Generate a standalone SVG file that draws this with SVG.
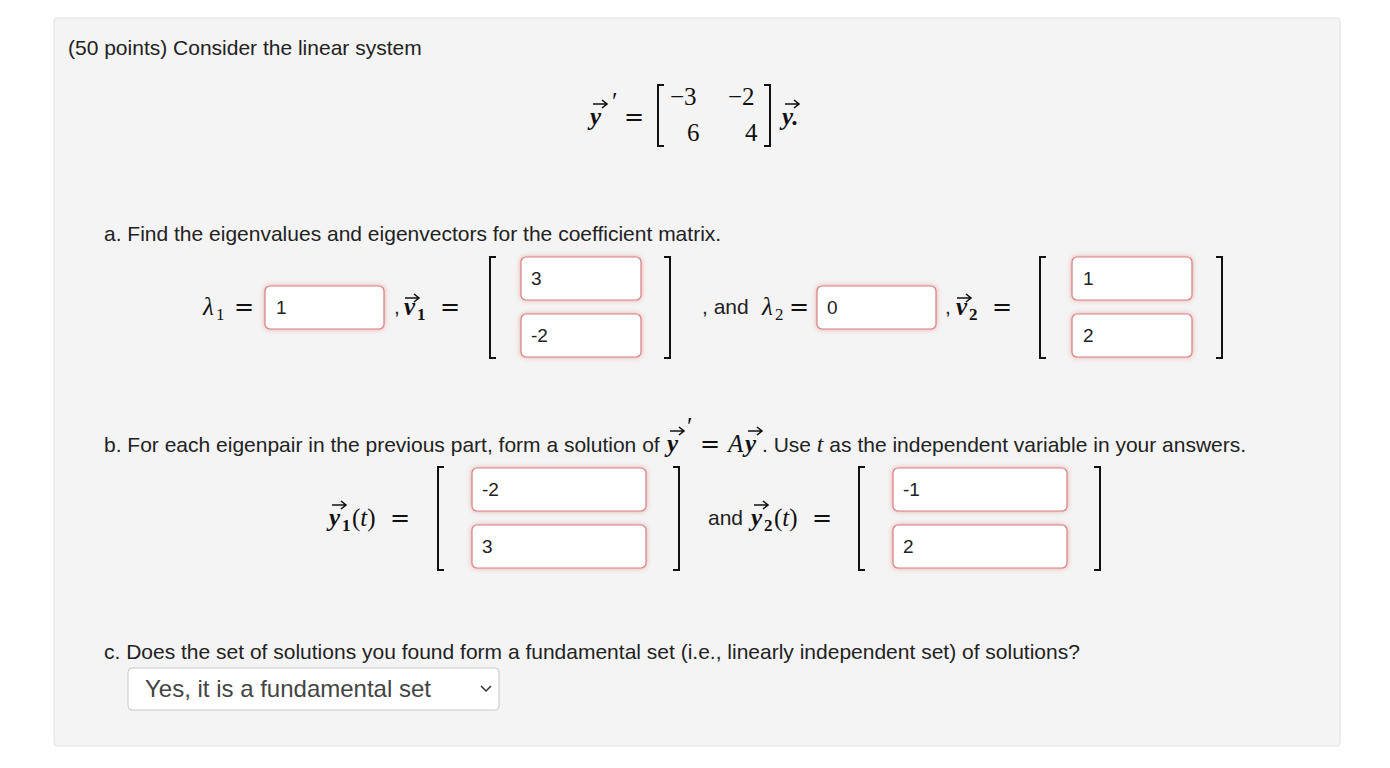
<svg xmlns="http://www.w3.org/2000/svg" width="1390" height="768" viewBox="0 0 1390 768">
<style>
.t{font-family:"Liberation Sans",Arial,sans-serif;font-size:21px;fill:#222}
.m{font-family:"Liberation Serif","Times New Roman",serif;font-size:25px;fill:#111}
.eq{font-family:"DejaVu Serif",serif;font-size:24px;fill:#111}
.mb{font-family:"Liberation Serif","Times New Roman",serif;font-size:25px;font-weight:bold;font-style:italic;fill:#111}
.mi{font-family:"Liberation Serif","Times New Roman",serif;font-size:25px;font-style:italic;fill:#111}
.sub{font-family:"Liberation Serif","Times New Roman",serif;font-size:17px;fill:#111}
.subb{font-family:"Liberation Serif","Times New Roman",serif;font-size:17px;font-weight:bold;fill:#111}
.box{fill:#fff;stroke:#d88080;stroke-width:1.2;filter:url(#glow)}
.v{font-family:"Liberation Sans",Arial,sans-serif;font-size:19px;fill:#222}
.br{fill:none;stroke:#111;stroke-width:2}
.ar{fill:none;stroke:#111;stroke-width:1.6}
</style>
<defs>
<filter id="glow" x="-20%" y="-30%" width="140%" height="160%">
<feDropShadow dx="0" dy="0" stdDeviation="2.5" flood-color="#e05050" flood-opacity="0.45"/>
</filter>
</defs>
<rect width="1390" height="768" fill="#fff"/>
<rect x="54" y="18" width="1286" height="728" rx="3" fill="#f4f4f4" stroke="#e0e0e0"/>
<text class="t" x="68" y="55">(50 points) Consider the linear system</text>

<!-- main equation -->
<text class="mb" x="590" y="125">y</text>
<path class="ar" d="M593 104 H606 M602 100 L607 104 L602 108"/>
<text class="m" x="612" y="110">′</text>
<text class="eq" x="624" y="125">=</text>
<path class="br" d="M664 85 H658 V146 H664"/>
<text class="m" x="670" y="105">−3</text>
<text class="m" x="728" y="105">−2</text>
<text class="m" x="687" y="141">6</text>
<text class="m" x="745" y="141">4</text>
<path class="br" d="M764 85 H770 V146 H764"/>
<text class="mb" x="782" y="125">y.</text>
<path class="ar" d="M785 104 H798 M794 100 L799 104 L794 108"/>

<!-- part a -->
<text class="t" x="104" y="241">a. Find the eigenvalues and eigenvectors for the coefficient matrix.</text>
<g id="lambda1">
<text class="mi" x="203" y="315">λ</text><text class="sub" x="216" y="320">1</text>
<text class="eq" x="234" y="315">=</text>
<rect class="box" x="265" y="286" width="119" height="43" rx="5"/>
<text class="v" x="276" y="314">1</text>
</g>
<g id="v1">
<text class="t" x="394" y="314">,</text>
<text class="mb" x="404" y="315">v</text><text class="subb" x="417" y="320">1</text>
<path class="ar" d="M405 298 H418 M414 294 L419 298 L414 302"/>
<text class="eq" x="440" y="315">=</text>
<path class="br" d="M496 257 H490 V358 H496"/>
<rect class="box" x="521" y="257" width="120" height="43" rx="5"/>
<text class="v" x="531" y="285">3</text>
<rect class="box" x="521" y="314" width="120" height="43" rx="5"/>
<text class="v" x="531" y="342">-2</text>
<path class="br" d="M664 257 H670 V358 H664"/>
</g>
<g id="lambda2">
<text class="t" x="702" y="314">, and</text>
<text class="mi" x="762" y="315">λ</text><text class="sub" x="775" y="320">2</text>
<text class="eq" x="789" y="315">=</text>
<rect class="box" x="817" y="286" width="119" height="43" rx="5"/>
<text class="v" x="827" y="314">0</text>
</g>
<g id="v2">
<text class="t" x="945" y="314">,</text>
<text class="mb" x="956" y="315">v</text><text class="subb" x="969" y="320">2</text>
<path class="ar" d="M957 298 H970 M966 294 L971 298 L966 302"/>
<text class="eq" x="992" y="315">=</text>
<path class="br" d="M1046 257 H1040 V358 H1046"/>
<rect class="box" x="1072" y="257" width="120" height="43" rx="5"/>
<text class="v" x="1083" y="285">1</text>
<rect class="box" x="1072" y="314" width="120" height="43" rx="5"/>
<text class="v" x="1083" y="342">2</text>
<path class="br" d="M1216 257 H1222 V358 H1216"/>
</g>

<!-- part b -->
<text class="t" x="104" y="452">b. For each eigenpair in the previous part, form a solution of</text>
<text class="mb" x="667" y="452">y</text>
<path class="ar" d="M670 431 H683 M679 427 L684 431 L679 435"/>
<text class="m" x="687" y="435">′</text>
<text class="eq" x="700" y="452">=</text>
<text class="mi" x="728" y="452">A</text>
<text class="mb" x="745" y="452">y</text>
<path class="ar" d="M748 431 H761 M757 427 L762 431 L757 435"/>
<text class="t" x="762" y="452">. Use <tspan font-family="Liberation Serif,serif" font-style="italic" font-size="24">t</tspan> as the independent variable in your answers.</text>

<g id="y1">
<text class="mb" x="329" y="526">y</text><text class="subb" x="342" y="531">1</text>
<path class="ar" d="M332 505 H345 M341 501 L346 505 L341 509"/>
<text class="m" x="352" y="526">(<tspan font-style="italic">t</tspan>)</text>
<text class="eq" x="390" y="526">=</text>
<path class="br" d="M444 467 H438 V570 H444"/>
<rect class="box" x="472" y="468" width="174" height="43" rx="5"/>
<text class="v" x="482" y="496">-2</text>
<rect class="box" x="472" y="525" width="174" height="43" rx="5"/>
<text class="v" x="482" y="553">3</text>
<path class="br" d="M673 467 H679 V570 H673"/>
</g>
<g id="y2">
<text class="t" x="708" y="525">and</text>
<text class="mb" x="751" y="526">y</text><text class="subb" x="764" y="531">2</text>
<path class="ar" d="M754 505 H767 M763 501 L768 505 L763 509"/>
<text class="m" x="774" y="526">(<tspan font-style="italic">t</tspan>)</text>
<text class="eq" x="812" y="526">=</text>
<path class="br" d="M865 467 H859 V570 H865"/>
<rect class="box" x="893" y="468" width="174" height="43" rx="5"/>
<text class="v" x="903" y="496">-1</text>
<rect class="box" x="893" y="525" width="174" height="43" rx="5"/>
<text class="v" x="903" y="553">2</text>
<path class="br" d="M1094 467 H1100 V570 H1094"/>
</g>

<!-- part c -->
<text class="t" x="104" y="659">c. Does the set of solutions you found form a fundamental set (i.e., linearly independent set) of solutions?</text>
<g id="select">
<rect x="128" y="668" width="371" height="42" rx="4" fill="#fff" stroke="#c8c8c8"/>
<text x="145" y="697" font-family="Liberation Sans,Arial,sans-serif" font-size="24" fill="#444">Yes, it is a fundamental set</text>
<path d="M481 686 L486 691 L491 686" fill="none" stroke="#333" stroke-width="1.5"/>
</g>
</svg>
